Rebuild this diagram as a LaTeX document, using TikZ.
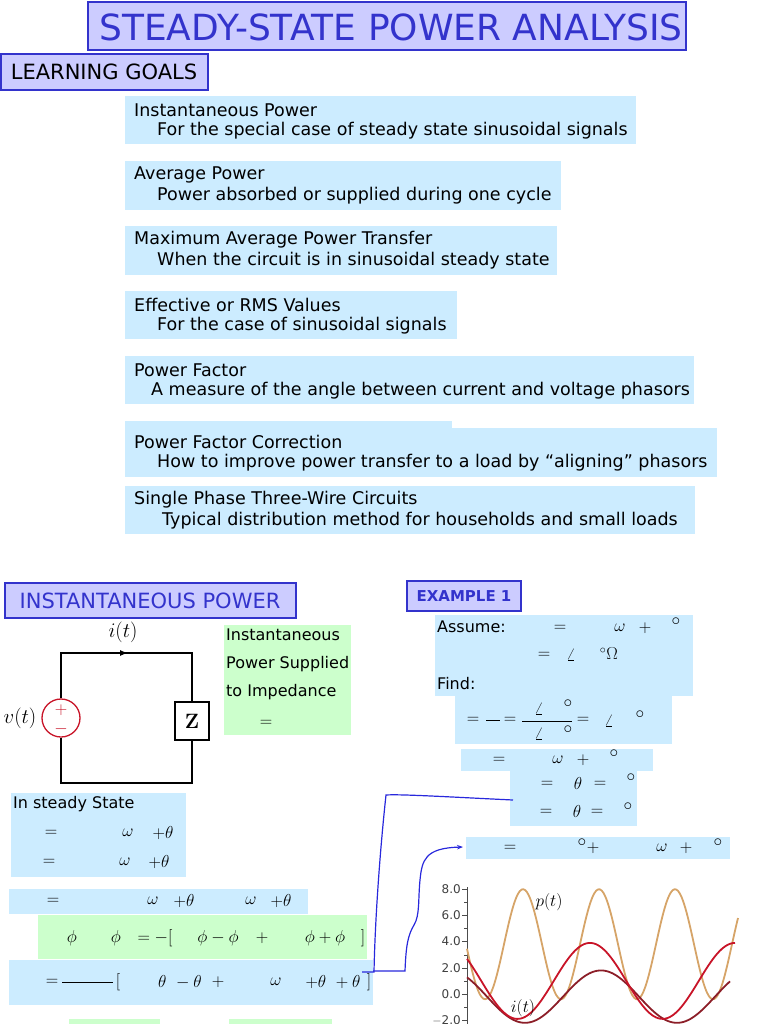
\documentclass[tikz,border=0pt]{standalone}
\usepackage[no-math]{fontspec}
\setmainfont{DejaVu Sans}
\usetikzlibrary{arrows.meta}
\definecolor{lav}{RGB}{204,204,255}
\definecolor{hblue}{RGB}{51,51,204}
\definecolor{lblue}{RGB}{204,236,255}
\definecolor{lgreen}{RGB}{204,255,204}
\definecolor{tan}{RGB}{214,164,104}
\definecolor{vred}{RGB}{200,20,40}
\definecolor{idark}{RGB}{140,30,40}
\definecolor{pen}{RGB}{40,40,220}
\tikzset{
  hdr/.style={fill=lav,draw=hblue,line width=1.5pt},
  txt/.style={anchor=west,inner sep=0pt,font=\fontsize{16}{18}\selectfont},
  gtxt/.style={anchor=west,inner sep=0pt,font=\fontsize{17.5}{19}\selectfont},
  mth/.style={inner sep=0pt,font=\fontsize{18}{20}\selectfont},
  wire/.style={line width=1.3pt},
}
\begin{document}
\begin{tikzpicture}[x=1pt,y=-1pt]
\useasboundingbox (0,0) rectangle (768,1024);
% headers
\draw[hdr] (88,2) rectangle (686,50);
\node[inner sep=0pt,text=hblue,font=\fontsize{36}{40}\selectfont] (title) at (391,27) {STEADY-STATE POWER ANALYSIS};
\draw[hdr] (1,54) rectangle (208,90);
\node[inner sep=0pt,font=\fontsize{21}{24}\selectfont] (lg) at (104,72) {LEARNING GOALS};
% goals
\foreach \x/\ya/\yb/\a/\ind/\b in {
 636/96/144/Instantaneous Power/23/For the special case of steady state sinusoidal signals,
 561/161/210/Average Power/23/Power absorbed or supplied during one cycle,
 557/226/275/Maximum Average Power Transfer/23/When the circuit is in sinusoidal steady state,
 457/291/339/Effective or RMS Values/23/For the case of sinusoidal signals,
 694/356/404/Power Factor/17/A measure of the angle between current and voltage phasors,
 717/428/477/Power Factor Correction/23/How to improve power transfer to a load by “aligning” phasors,
 695/486/534/Single Phase Three-Wire Circuits/28/Typical distribution method for households and small loads}{
 \fill[lblue] (125,\ya) rectangle (\x,\yb);
 \node[gtxt] at (134,\ya+14) {\a};
 \node[gtxt] at (134+\ind,\ya+35) {\b};
}
\fill[lblue] (125,421) rectangle (452,428);
% instantaneous power header
\draw[hdr] (5,583) rectangle (296,618);
\node[inner sep=0pt,text=hblue,font=\fontsize{21}{24}\selectfont] (ip) at (150,601) {INSTANTANEOUS POWER};
\draw[hdr] (407,581) rectangle (521,611);
\node[inner sep=0pt,text=hblue,font=\fontsize{15}{18}\selectfont\bfseries] (ex) at (464,596) {EXAMPLE 1};
% circuit
\coordinate (tl) at (61,653); \coordinate (tr) at (192,653);
\coordinate (bl) at (61,783); \coordinate (br) at (192,783);
\node[circle,draw=vred,line width=1.3pt,minimum size=38pt,inner sep=0pt] (src) at (61,718) {};
\node[text=vred,inner sep=0pt,font=\fontsize{16}{18}\selectfont] (plus) at (61,710) {$+$};
\node[text=vred,inner sep=0pt,font=\fontsize{16}{18}\selectfont] (minus) at (61,729) {$-$};
\node[draw,line width=1.3pt,minimum width=34pt,minimum height=38pt,inner sep=0pt,font=\fontsize{22}{24}\selectfont] (Z) at (192,721) {$\mathbf{Z}$};
\draw[wire] (src.north) -- (tl) -- (tr) -- (Z.north);
\draw[wire] (src.south) -- (bl) -- (br) -- (Z.south);
\draw[-{Latex[length=8pt,width=6pt]},line width=1.3pt] (100,653) -- (128,653);
\node[font=\fontsize{20}{22}\selectfont] (il) at (123,632) {$i(t)$};
\node[font=\fontsize{20}{22}\selectfont] (vl) at (20,718) {$v(t)$};
% green box
\fill[lgreen] (224,625) rectangle (351,735);
\node[txt] at (226,635) {Instantaneous};
\node[txt] at (226,664) {Power Supplied};
\node[txt] at (226,692) {to Impedance};
\node[mth] at (266,723) {$=$};
% steady state
\fill[lblue] (11,793) rectangle (186,877);
\node[txt] at (13,804) {In steady State};
\node[mth] at (51,833) {$=$}; \node[mth] at (128,833) {$\omega$}; \node[mth] at (163,833) {$+\theta$};
\node[mth] at (49,862) {$=$}; \node[mth] at (125,862) {$\omega$}; \node[mth] at (159,862) {$+\theta$};
\fill[lblue] (9,889) rectangle (308,914);
\node[mth] at (53,901) {$=$}; \node[mth] at (153,901) {$\omega$}; \node[mth] at (184,901) {$+\theta$};
\node[mth] at (251,901) {$\omega$}; \node[mth] at (281,901) {$+\theta$};
\fill[lgreen] (38,915) rectangle (367,959);
\node[mth] at (72,938) {$\phi$}; \node[mth] at (116,938) {$\phi$}; \node[mth] at (155,938) {$=-[$};
\node[mth] at (218,938) {$\phi-\phi$}; \node[mth] at (262,938) {$+$}; \node[mth] at (325,938) {$\phi+\phi$}; \node[mth] at (363,938) {$]$};
\fill[lblue] (9,960) rectangle (373,1005);
\node[mth] at (52,982) {$=$}; \draw (62,982) -- (113,982); \node[mth] at (118,982) {$[$};
\node[mth] at (180,982) {$\theta\ -\theta$}; \node[mth] at (218,982) {$+$};
\node[mth] at (276,982) {$\omega$}; \node[mth] at (333,982) {$+\theta\ +\theta$}; \node[mth] at (369,982) {$]$};
\fill[lgreen] (69,1019) rectangle (160,1024);
\fill[lgreen] (229,1019) rectangle (332,1024);
% example
\fill[lblue] (435,615) rectangle (693,696);
\node[txt] at (437,627) {Assume:};
\node[mth] at (560,628) {$=$}; \node[mth] at (620,628) {$\omega$}; \node[mth] at (645,628) {$+$}; \node[mth] at (676,622) {$\circ$};
\node[mth] at (544,655) {$=$}; \node[mth] at (571,655) {$\angle$}; \node[mth] at (609,654) {$^\circ\Omega$};
\node[txt] at (437,684) {Find:};
\fill[lblue] (455,696) rectangle (672,744);
\node[mth] at (473,720) {$=$}; \draw (486,720) -- (500,720); \node[mth] at (510,720) {$=$};
\draw (522,721) -- (572,721);
\node[mth] at (539,709) {$\angle$}; \node[mth] at (568,704) {$\circ$};
\node[mth] at (539,734) {$\angle$}; \node[mth] at (568,730) {$\circ$};
\node[mth] at (583,720) {$=$}; \node[mth] at (609,721) {$\angle$}; \node[mth] at (640,715) {$\circ$};
\fill[lblue] (461,749) rectangle (653,771);
\node[mth] at (499,760) {$=$}; \node[mth] at (558,760) {$\omega$}; \node[mth] at (583,760) {$+$}; \node[mth] at (614,754) {$\circ$};
\fill[lblue] (510,771) rectangle (637,826);
\node[mth] at (547,784) {$=$}; \node[mth] at (578,783) {$\theta$}; \node[mth] at (600,784) {$=$}; \node[mth] at (631,778) {$\circ$};
\node[mth] at (546,812) {$=$}; \node[mth] at (577,811) {$\theta$}; \node[mth] at (597,812) {$=$}; \node[mth] at (628,807) {$\circ$};
\fill[lblue] (466,837) rectangle (730,859);
\node[mth] at (510,848) {$=$}; \node[mth] at (582,843) {$\circ$}; \node[mth] at (593,848) {$+$};
\node[mth] at (662,848) {$\omega$}; \node[mth] at (686,848) {$+$}; \node[mth] at (718,843) {$\circ$};
% pen strokes
\coordinate (pa) at (513,800);
\coordinate (pb) at (362,972);
\draw[pen,line width=1.2pt] (pa) .. controls (450,797) and (400,794) .. (386,795) .. controls (380,850) and (375,920) .. (374,972) -- (pb);
\coordinate (pc) at (373,971);
\coordinate (pd) at (463,847);
\draw[pen,line width=1.2pt,-{Stealth[length=6pt]}] (pc) -- (405,971) .. controls (406,945) and (408,935) .. (414,925) .. controls (420,915) and (418,900) .. (420,880) .. controls (422,860) and (425,848) .. (pd);
% plot
\begin{scope}
\clip (430,870) rectangle (768,1024);
\draw[line width=0.8pt,black!70] (467,887) -- (467,1030);
\foreach \v/\l in {8/8.0,6/6.0,4/4.0,2/2.0,0/0.0,-2/$-$2.0}{
  \draw[black!70] (462,994-13.1*\v) -- (467,994-13.1*\v);
  \node[anchor=east,inner sep=0pt,font=\fontsize{12}{14}\selectfont,text=black!75] at (461,994-13.1*\v) {\l};
}
\foreach \v in {7,5,3,1,-1}{ \draw[black!70] (464,994-13.1*\v) -- (467,994-13.1*\v); }
\draw[tan,line width=1.8pt,domain=467:738,samples=150,smooth] plot (\x,{994-13.1*(3.8+4.2*cos((\x-523)/76*360))});
\draw[idark,line width=1.8pt,domain=467:730,samples=120,smooth] plot (\x,{994-13.1*(-0.2+2.0*cos((\x-601)/152*360))});
\draw[vred,line width=1.8pt,domain=467:735,samples=120,smooth] plot (\x,{994-13.1*(1.0+2.9*cos((\x-590)/145*360))});
\end{scope}
\node[font=\fontsize{17}{19}\selectfont,inner sep=0pt] (pl) at (549,902) {$p(t)$};
\node[font=\fontsize{17}{19}\selectfont,inner sep=0pt] (il2) at (523,1008) {$i(t)$};
\end{tikzpicture}
\end{document}
